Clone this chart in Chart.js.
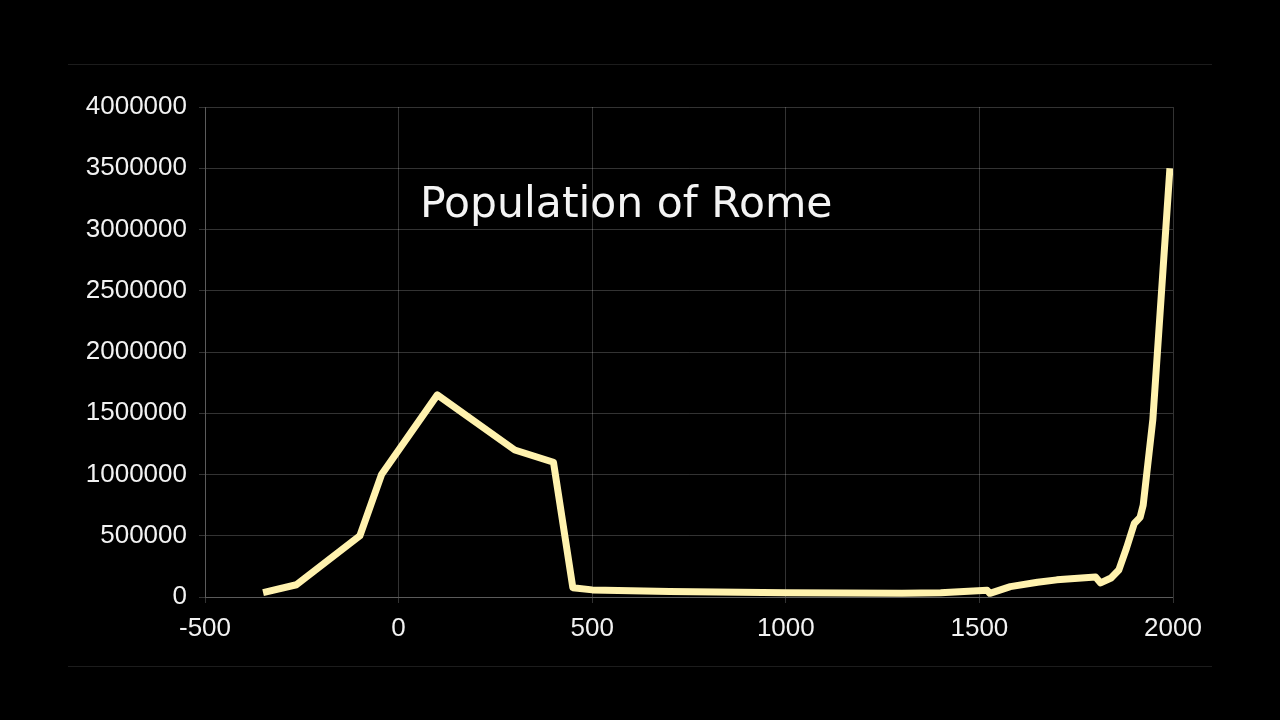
<!DOCTYPE html>
<html>
<head>
<meta charset="utf-8">
<script src="https://cdn.jsdelivr.net/npm/chart.js@4.4.1/dist/chart.umd.min.js"></script>
<style>
  html, body { margin: 0; padding: 0; background: #000; }
  #wrap { position: relative; width: 1280px; height: 720px; }
  #frame { position: absolute; left: 68px; top: 64px; width: 1144px; height: 603px;
           border-top: 1px solid #1c1c1c; border-bottom: 1px solid #1c1c1c; box-sizing: border-box; }
  #title { position: absolute; left: 420px; top: 178px; color: #f4f4f4;
           font-family: "DejaVu Sans", sans-serif; font-size: 42.5px; white-space: nowrap; }
</style>
</head>
<body>
<div id="wrap">
  <div id="frame"></div>
  <canvas id="chart" width="1280" height="720"></canvas>
  <div id="title">Population of Rome</div>
</div>
<script>
// year vs population
var years = [-350, -264, -100, -44, 100, 300, 400, 450, 500, 700, 1000, 1300, 1400, 1520, 1527,
             1580, 1650, 1700, 1800, 1813, 1840, 1860, 1880, 1900, 1915, 1923, 1948, 1992];
var population = [35000, 100000, 500000, 1000000, 1650000, 1200000, 1100000, 75000, 58000, 45000, 35000, 30000, 35000, 55000, 30000,
                  85000, 120000, 140000, 163000, 115000, 155000, 220000, 400000, 600000, 650000, 750000, 1450000, 3500000];

var xTicks = [-500, 0, 500, 1000, 1500, 2000];
var yMax = 4000000, yStep = 500000;

var points = years.map(function (y, i) { return { x: y, y: population[i] }; });

var gridCol = 'rgba(255,255,255,0.2)';
var tickFont = { family: '"Liberation Sans", Arial, sans-serif', size: 26 };

new Chart('chart', {
  type: 'scatter',
  data: {
    datasets: [{
      label: 'Population of Rome',
      data: points,
      showLine: true,
      borderColor: '#fff2ae',
      borderWidth: 7,
      borderJoinStyle: 'round',
      borderCapStyle: 'butt',
      pointRadius: 0,
      tension: 0
    }]
  },
  options: {
    responsive: false,
    animation: false,
    layout: { padding: { top: 107, right: 107, bottom: 0, left: 0 } },
    plugins: { legend: { display: false }, tooltip: { enabled: false } },
    scales: {
      x: {
        type: 'linear',
        min: xTicks[0],
        max: xTicks[xTicks.length - 1],
        afterBuildTicks: function (s) { s.ticks = xTicks.map(function (v) { return { value: v }; }); },
        afterFit: function (s) { s.height = 123; },
        grid: { color: gridCol, tickLength: 6, tickColor: gridCol },
        border: { color: gridCol },
        ticks: { color: '#f2f2f2', font: tickFont, padding: 10, maxRotation: 0,
                 callback: function (v) { return String(v); } }
      },
      y: {
        min: 0,
        max: yMax,
        afterFit: function (s) { s.width = 205; },
        grid: { color: gridCol, tickLength: 6, tickColor: gridCol },
        border: { color: gridCol },
        ticks: { stepSize: yStep, color: '#f2f2f2', font: tickFont, padding: 12,
                 callback: function (v) { return String(v); } }
      }
    }
  }
});
</script>
</body>
</html>
